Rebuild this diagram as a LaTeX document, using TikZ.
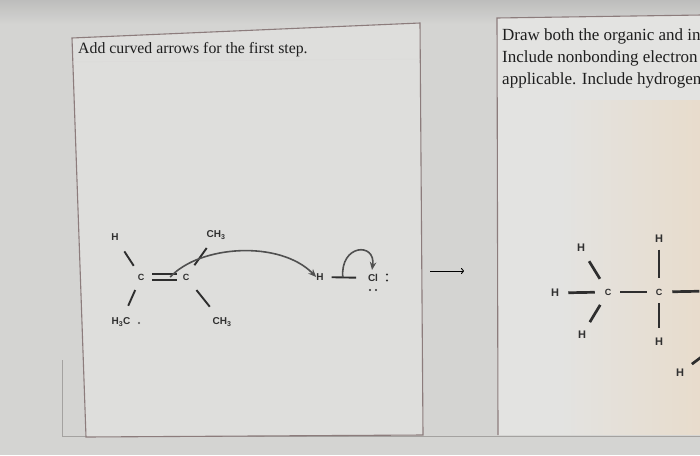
\documentclass[tikz,border=0pt]{standalone}
\usepackage{fontspec}
\setmainfont{Liberation Serif}
\newfontfamily\atomfont{Liberation Sans}
\usetikzlibrary{calc,arrows.meta}
\definecolor{bg}{HTML}{D4D4D2}
\definecolor{topband}{HTML}{BDBDBC}
\definecolor{panelL}{HTML}{DEDEDC}
\definecolor{panelR}{HTML}{E3E3E1}
\definecolor{warm}{HTML}{E8DCCC}
\definecolor{frame}{HTML}{8C7C7C}
\definecolor{frameB}{HTML}{A4A2A0}
\definecolor{txt}{HTML}{1E1E1E}
\definecolor{atomc}{HTML}{303030}
\definecolor{bondc}{HTML}{2E2E2E}
\definecolor{arrowc}{HTML}{505050}
\begin{document}
\begin{tikzpicture}[x=1pt,y=-1pt,
  atom/.style={font=\atomfont\bfseries\fontsize{10}{10}\selectfont, text=atomc, inner sep=0pt},
  catom/.style={atom, font=\atomfont\bfseries\fontsize{9}{9}\selectfont},
  ratom/.style={atom, font=\atomfont\bfseries\fontsize{11}{11}\selectfont},
  rcatom/.style={atom, font=\atomfont\bfseries\fontsize{9}{9}\selectfont},
  bond/.style={line width=1.9pt, draw=bondc},
  rbond/.style={line width=2.7pt, draw=bondc},
  curly/.style={line width=1.6pt, draw=arrowc, -{Stealth[length=8pt,width=6.5pt]}},
  rxn/.style={line width=0.9pt, draw=black, -{To[length=3pt,width=6pt]}},
  pair/.style={fill=bondc, circle, inner sep=0pt, minimum size=2.3pt},
  hdr/.style={font=\fontsize{15.8}{15.8}\selectfont, text=txt, anchor=base west, inner sep=0pt},
  hdrR/.style={font=\fontsize{17}{17}\selectfont, text=txt, anchor=base west, inner sep=0pt},
  panel/.style={line width=1.1pt, draw=frame}
]
\clip (0,0) rectangle (700,455);
% background
\fill[bg] (0,0) rectangle (700,455);
\shade[top color=topband, bottom color=bg] (0,0) rectangle (700,24);
% outer container lines
\draw[frameB, line width=0.7pt] (62,360) -- (62,436) -- (700,436);
% left panel
\filldraw[panel, fill=panelL] (72,38) -- (420,23) -- (423,435) -- (86,437) -- cycle;
\draw[frameB!40, line width=0.5pt] (73,62) -- (420,59);
% right panel
\fill[panelR] (497,18) -- (702,15) -- (702,435) -- (498,435) -- cycle;
\shade[left color=panelR, right color=warm] (560,100) rectangle (702,434);
\draw[panel] (702,15) -- (497,18) -- (498,435);

% header texts
\node[hdr] (t1) at (78,53) {Add curved arrows for the first step.};
\node[hdrR] (t2) at (502,40) {Draw both the organic and in};
\node[hdrR] (t3) at (502,62) {Include nonbonding electron};
\node[hdrR] (t4) at (502,84) {applicable. Include hydrogen};

% ---- left molecule ----
\node[atom] (h1) at (115,237) {H};
\node[catom] (c1) at (141,277) {C};
\node[catom] (c2) at (186,277) {C};
\node[atom] (me1) at (121,322) {H\textsubscript{3}C};
\node[atom] (me2) at (216,235) {CH\textsubscript{3}};
\node[atom] (me3) at (222,322) {CH\textsubscript{3}};
\draw[bond] ($(h1)!.36!(c1)$) -- ($(h1)!.72!(c1)$);
\draw[bond] ($(c1)!.29!(me1)$) -- ($(c1)!.64!(me1)$);
\draw[bond] ($(c2)!.28!(me2)$) -- ($(c2)!.69!(me2)$);
\draw[bond] ($(c2)!.29!(me3)$) -- ($(c2)!.66!(me3)$);
\draw[bond] ($(c1)+(11,-3)$) -- ($(c2)+(-9,-3)$);
\draw[bond] ($(c1)+(11,3)$) -- ($(c2)+(-9,3)$);
\fill[arrowc] (139,323) circle (1.1);

% H-Cl
\node[atom] (hh) at (320,277) {H};
\node[atom] (cl) at (373,278) {Cl};
\draw[bond] ($(hh)!.22!(cl)$) -- ($(hh)!.68!(cl)$);
\node[pair] (lp1) at (387,274.5) {};
\node[pair] (lp2) at (387,280.5) {};
\node[pair] (lp3) at (370,290) {};
\node[pair] (lp4) at (376,290) {};

% curved arrows
\coordinate (db) at ($(c1)!.65!(c2)$);
\draw[curly] (db) .. controls (200,245) and (280,240) .. (hh.west);
\coordinate (hcl) at ($(hh)!.43!(cl)$);
\draw[curly] (hcl) .. controls (340,244) and (376,242) .. ($(cl)+(-1,-8)$);

% reaction arrow
\coordinate (ra) at (430,271);
\coordinate (rb) at (464,271);
\draw[rxn] (ra) -- (rb);

% ---- right molecule ----
\node[ratom] (ha) at (581,248) {H};
\node[ratom] (hb) at (555,293) {H};
\node[rcatom] (rc1) at (608,292) {C};
\node[ratom] (hc) at (582,335) {H};
\node[rcatom] (rc2) at (659,292) {C};
\node[ratom] (hd) at (659,239) {H};
\node[ratom] (he) at (659,342) {H};
\node[ratom] (hf) at (680,373) {H};
\coordinate (rc3) at (712,291);
\coordinate (rc4) at (712,349);
\draw[rbond] ($(ha)!.3!(rc1)$) -- ($(ha)!.7!(rc1)$);
\draw[rbond] ($(hb)!.25!(rc1)$) -- ($(hb)!.75!(rc1)$);
\draw[rbond] ($(rc1)!.3!(hc)$) -- ($(rc1)!.7!(hc)$);
\draw[rbond] ($(rc1)!.24!(rc2)$) -- ($(rc1)!.76!(rc2)$);
\draw[rbond] ($(hd)!.2!(rc2)$) -- ($(hd)!.74!(rc2)$);
\draw[rbond] ($(rc2)!.22!(he)$) -- ($(rc2)!.72!(he)$);
\draw[rbond] ($(rc2)!.25!(rc3)$) -- ($(rc2)!.76!(rc3)$);
\draw[rbond] ($(hf)!.37!(rc4)$) -- ($(hf)!.75!(rc4)$);
\end{tikzpicture}
\end{document}
